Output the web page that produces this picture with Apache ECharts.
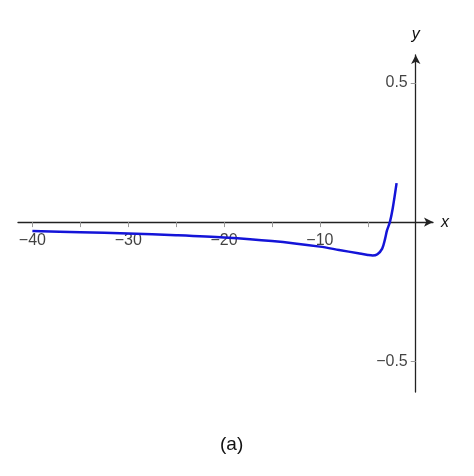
<!DOCTYPE html>
<html>
<head>
<meta charset="utf-8">
<script src="https://cdn.jsdelivr.net/npm/echarts@6/dist/echarts.min.js"></script>
<style>
html,body{margin:0;padding:0;background:#fff;}
#chart{width:474px;height:476px;}
</style>
</head>
<body>
<div id="chart"></div>
<script>
// curve
var xValues = [-40, -35, -30, -25, -20, -15, -10, -8, -6, -5, -4.5, -4, -3.5, -3.2, -3, -2.7, -2.4, -2];
var yValues = [-0.032, -0.036, -0.041, -0.047, -0.055, -0.068, -0.088, -0.1, -0.112, -0.118, -0.12, -0.115, -0.095, -0.06, -0.03, 0, 0.05, 0.14];
var xTicks = [-40, -35, -30, -25, -20, -15, -10, -5];
var xLabels = [-40, -30, -20, -10];
var yTicks = [-0.5, 0.5];

var points = [];
for (var i = 0; i < xValues.length; i++) {
    points.push([xValues[i], yValues[i]]);
}

function minus(v) {
    return v < 0 ? '\u2212' + Math.abs(v) : String(v);
}

// labels sit beside the axis lines, so put them on invisible points
var xLabelPts = xLabels.map(function (v) { return [v, 0]; });
var yLabelPts = yTicks.map(function (v) { return [0, v]; });
var labelFont = {color: '#111', fontSize: 16, fontFamily: 'Liberation Sans'};

var chart = echarts.init(document.getElementById('chart'));
chart.setOption({
    animation: false,
    grid: {left: 18, right: 41, top: 55, bottom: 84, containLabel: false, outerBoundsMode: 'none'},
    xAxis: {
        type: 'value', min: -41.5, max: 1.8,
        axisLine: {onZero: true, lineStyle: {color: '#222', width: 1.3},
            symbol: ['none', 'arrow'], symbolSize: [7, 9]},
        axisTick: {customValues: xTicks, length: 5, lineStyle: {color: '#999'}},
        axisLabel: {show: false},
        splitLine: {show: false},
        name: 'x', nameLocation: 'end', nameGap: 8,
        nameTextStyle: {fontStyle: 'italic', fontSize: 16, color: '#111', fontFamily: 'Liberation Sans'}
    },
    yAxis: {
        type: 'value', min: -0.61, max: 0.6,
        axisLine: {onZero: true, lineStyle: {color: '#222', width: 1.3},
            symbol: ['none', 'arrow'], symbolSize: [7, 9]},
        axisTick: {customValues: yTicks, length: 5, lineStyle: {color: '#999'}},
        axisLabel: {show: false},
        splitLine: {show: false},
        name: 'y', nameLocation: 'end', nameGap: 12,
        nameTextStyle: {fontStyle: 'italic', fontSize: 16, color: '#111', fontFamily: 'Liberation Sans'}
    },
    series: [{
        type: 'line',
        data: points,
        smooth: 0.3,
        showSymbol: false,
        lineStyle: {color: '#1414d8', width: 2.5},
        z: 3
    }, {
        type: 'scatter', data: xLabelPts, symbolSize: 0, silent: true, z: 2,
        label: Object.assign({show: true, position: 'bottom', distance: 10,
            formatter: function (p) { return minus(p.value[0]); }}, labelFont)
    }, {
        type: 'scatter', data: yLabelPts, symbolSize: 0, silent: true, z: 2,
        label: Object.assign({show: true, position: 'left', distance: 8,
            formatter: function (p) { return minus(p.value[1]); }}, labelFont)
    }],
    graphic: [{
        type: 'text', left: 220, top: 435,
        style: {text: '(a)', fontSize: 19, fill: '#111', fontFamily: 'Liberation Sans'}
    }]
});
</script>
</body>
</html>
